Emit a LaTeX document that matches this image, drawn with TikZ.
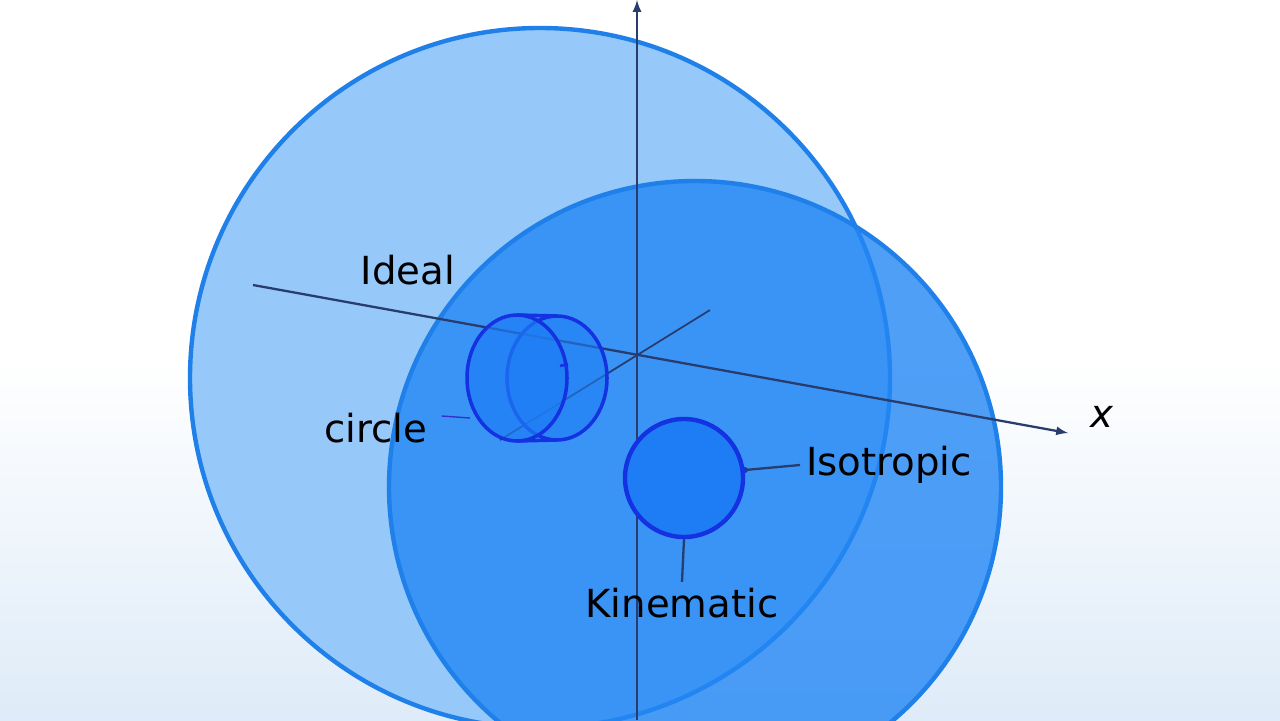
\documentclass[tikz,border=0pt]{standalone}
\usepackage{fontspec}
\setmainfont{DejaVu Sans}
\begin{document}
\begin{tikzpicture}[x=0.02cm,y=-0.02cm,
  lbl/.style={font=\fontsize{22}{24}\selectfont,text=black},
  axis/.style={draw=black!60!blue!60, line width=1.3pt},
  thin/.style={draw=blue!70!black, line width=1pt}]
\definecolor{bigfill}{RGB}{150,200,250}
\definecolor{bigedge}{RGB}{30,128,232}
\definecolor{midfill}{RGB}{35,135,245}
\definecolor{smallfill}{RGB}{30,125,245}
\definecolor{smalledge}{RGB}{20,50,225}
\definecolor{axc}{RGB}{40,60,110}
\useasboundingbox (0,0) rectangle (1280,720);
\shade[top color=white, bottom color=white, middle color=white] (0,0) rectangle (1280,360);
\shade[top color=white, bottom color={rgb,255:red,222;green,235;blue,248}] (0,360) rectangle (1280,720);
\begin{scope}
\clip (0,0) rectangle (1280,720);
\fill[bigfill] (540,378) circle (350);
\draw[bigedge, line width=2.5pt] (540,378) circle (350);
\fill[midfill, opacity=0.8] (695,487) circle (306);
\draw[bigedge, line width=2.5pt] (695,487) circle (306);
\end{scope}
% axes
\coordinate (top) at (637,0);
\coordinate (bot) at (637,720);
\draw[draw=axc, line width=1.3pt, -latex] (bot) -- (top);
\coordinate (xl) at (253,285);
\coordinate (xr) at (1068,433);
\draw[draw=axc, line width=1.3pt, -latex] (xl) -- (xr);
\coordinate (d1) at (500,440);
\coordinate (d2) at (710,310);
\draw[draw=axc, line width=1pt] (d1) -- (d2);
% cylinder
\fill[smallfill, opacity=0.6] (557,378) ellipse (50 and 62);
\draw[smalledge, line width=2pt] (557,378) ellipse (50 and 62);
\fill[smallfill, opacity=0.7] (517,378) ellipse (50 and 63);
\draw[smalledge, line width=2pt] (517,378) ellipse (50 and 63);
\draw[smalledge, line width=2pt] (517,315) -- (557,316);
\draw[smalledge, line width=2pt] (517,441) -- (557,440);
\draw[smalledge, line width=1.5pt] (560,366) -- (568,364);
% small circle
\node[circle, minimum size=118*0.02cm, fill=smallfill, draw=smalledge, line width=2.5pt, inner sep=0] (sc) at (684,478) {};
% labels
\node[lbl] (ideal) at (408,270) {Ideal};
\node[lbl] (circ) at (376,428) {circle};
\draw[draw=blue!60!gray, line width=0.8pt] (circ.east) ++(8,-12) -- (470,418);
\node[lbl, anchor=west] (iso) at (800,465) {Isotropic};
\fill[smalledge] (745,470) circle (3);
\draw[draw=axc, line width=1.3pt] (745,470) -- (iso.west);
\node[lbl] (kin) at (682,603) {Kinematic};
\draw[draw=axc, line width=1.3pt] (sc.south) -- (kin.north);
\node[font=\fontsize{22}{24}\selectfont\itshape] (xlab) at (1102,417) {x};
\end{tikzpicture}
\end{document}
